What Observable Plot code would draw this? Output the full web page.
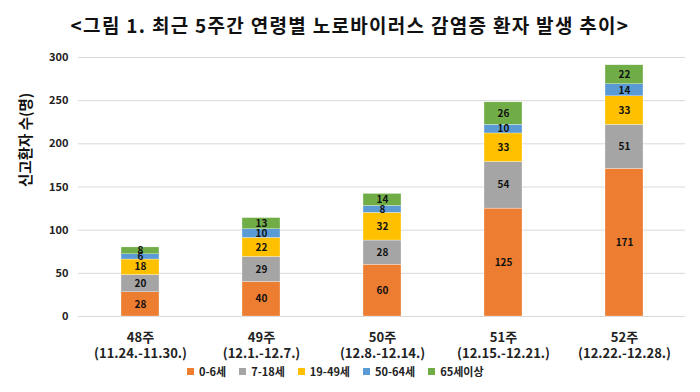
<!DOCTYPE html>
<html><head><meta charset="utf-8">
<script src="https://cdn.jsdelivr.net/npm/d3@7"></script>
<script src="https://cdn.jsdelivr.net/npm/@observablehq/plot@0.6"></script>
<style>
body{margin:0;background:#fff;font-family:"Noto Sans CJK KR","Noto Sans",sans-serif;}
#wrap{position:relative;width:700px;height:392px;overflow:hidden;}
#title{position:absolute;top:11px;left:0;width:700px;text-align:center;font-size:19px;letter-spacing:1.3px;font-weight:700;color:#111;}
#chart{position:absolute;top:48px;left:0;}
#legend{position:absolute;top:363px;left:0;width:700px;display:flex;justify-content:flex-start;font-size:11px;font-weight:700;color:#222;}
#legend .it{display:flex;align-items:center;margin-right:13px;}
#legend .sw{width:7px;height:7px;margin-right:5px;}
</style></head>
<body><div id="wrap"><div id="title">&lt;그림 1. 최근 5주간 연령별 노로바이러스 감염증 환자 발생 추이&gt;</div><div id="chart"></div><div id="legend"></div></div>
<script>
const weeks = ["48주","49주","50주","51주","52주"];
const periods = ["(11.24.-11.30.)","(12.1.-12.7.)","(12.8.-12.14.)","(12.15.-12.21.)","(12.22.-12.28.)"];
const groups = ["0-6세","7-18세","19-49세","50-64세","65세이상"];
const colors = ["#ED7D31","#A5A5A5","#FFC000","#5B9BD5","#70AD47"];
const age0_6 = [28,40,60,125,171];
const age7_18 = [20,29,28,54,51];
const age19_49 = [18,22,32,33,33];
const age50_64 = [6,10,8,10,14];
const age65 = [8,13,14,26,22];
const yTicks = [0,50,100,150,200,250,300];

const series = [age0_6, age7_18, age19_49, age50_64, age65];
const data = [];
weeks.forEach((w,i)=>groups.forEach((g,j)=>data.push({week:w, group:g, value:series[j][i]})));
const periodOf = Object.fromEntries(weeks.map((w,i)=>[w,periods[i]]));

const stackOpts = {x:"week", y:"value", z:"group", order: groups};
const chart = Plot.plot({
  width:700, height:320,
  marginTop:9, marginBottom:52, marginLeft:78, marginRight:15,
  style:{fontFamily:'"Noto Sans CJK KR","Noto Sans",sans-serif', background:"#fff"},
  x:{domain:weeks, paddingInner:0.69, paddingOuter:0.345, label:null},
  y:{domain:[0,300], label:null},
  color:{domain:groups, range:colors},
  marks:[
    Plot.ruleY(yTicks,{stroke:"#d9d9d9", strokeWidth:1}),
    Plot.barY(data, {...stackOpts, fill:"group", stroke:"white", strokeWidth:0.3}),
    Plot.text(data, Plot.stackY({...stackOpts, text:"value", fill:"#111", fontWeight:700, fontSize:10})),
    Plot.axisY({ticks:yTicks, tickSize:0, tickPadding:10, fontSize:11, fontWeight:700, fill:"#222", label:null}),
    Plot.axisX({tickSize:0, tickPadding:13, fontSize:13, fontWeight:700, fill:"#222", label:null, lineHeight:1.3,
      tickFormat:d=>d+"\n"+periodOf[d]}),
    Plot.text(["신고환자 수(명)"],{frameAnchor:"left", dx:-52, rotate:-90, fontSize:14.5, fontWeight:700, fill:"#111"})
  ]
});
document.getElementById("chart").appendChild(chart);
const lg = document.getElementById("legend");
lg.style.paddingLeft = "187px";
groups.forEach((g,i)=>{
  const it=document.createElement("div");it.className="it";
  it.innerHTML=`<span class="sw" style="background:${colors[i]}"></span><span>${g}</span>`;
  lg.appendChild(it);
});
</script></body></html>
